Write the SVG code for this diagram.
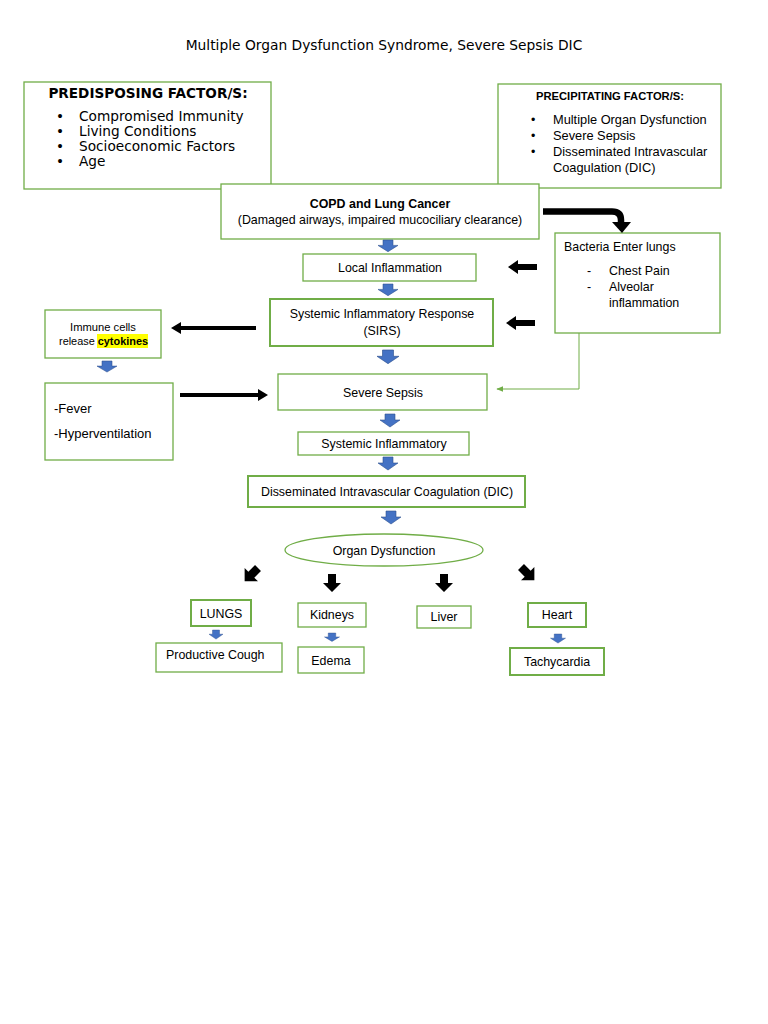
<svg xmlns="http://www.w3.org/2000/svg" width="768" height="1024" viewBox="0 0 768 1024">
<style>
.bg{fill:#ffffff}
.box{fill:#ffffff;stroke:#70ad47;stroke-width:1.3}
.boxt{fill:#ffffff;stroke:#70ad47;stroke-width:2}
.t{font-family:"Liberation Sans",Arial,sans-serif;font-size:12.4px;fill:#000}
.c{text-anchor:middle}
.b{font-weight:bold}
.v{font-family:"DejaVu Sans",Verdana,sans-serif;fill:#000}
.blue{fill:#4472c4;stroke:#2f528f;stroke-width:0.6}
.blk{fill:#000}
.gl{fill:none;stroke:#70ad47;stroke-width:1}
</style>
<defs>
<path id="ba" d="M-5,0 H5 V6 H10 L0,13 L-10,6 H-5 Z"/>
<path id="kd" d="M-4,0 H4 V9 H9 L0,18 L-9,9 H-4 Z"/>
<marker id="gm" viewBox="0 0 10 10" refX="9" refY="5" markerWidth="7" markerHeight="7" orient="auto"><path d="M0,1 L10,5 L0,9 Z" fill="#70ad47"/></marker>
</defs>
<rect class="bg" x="0" y="0" width="768" height="1024"/>
<text class="v" x="384" y="50" font-size="13.8" text-anchor="middle">Multiple Organ Dysfunction Syndrome, Severe Sepsis DIC</text>

<g id="predisposing">
<rect class="box" x="24" y="82" width="247" height="107"/>
<text class="v b" x="148" y="98" font-size="13.6" text-anchor="middle">PREDISPOSING FACTOR/S:</text>
<g class="v" font-size="13.7">
<text x="56" y="121">•</text><text x="79" y="121">Compromised Immunity</text>
<text x="56" y="136">•</text><text x="79" y="136">Living Conditions</text>
<text x="56" y="151">•</text><text x="79" y="151">Socioeconomic Factors</text>
<text x="56" y="166">•</text><text x="79" y="166">Age</text>
</g>
</g>

<g id="precipitating">
<rect class="box" x="498" y="84" width="223" height="104"/>
<text class="t b c" x="610" y="100" style="font-size:11.2px">PRECIPITATING FACTOR/S:</text>
<text class="t" x="531" y="124">•</text><text class="t" x="553" y="124" style="font-size:12.8px">Multiple Organ Dysfunction</text>
<text class="t" x="531" y="140">•</text><text class="t" x="553" y="140" style="font-size:12.8px">Severe Sepsis</text>
<text class="t" x="531" y="156">•</text><text class="t" x="553" y="156" style="font-size:12.8px">Disseminated Intravascular</text>
<text class="t" x="553" y="172" style="font-size:12.8px">Coagulation (DIC)</text>
</g>

<g id="copd">
<rect class="box" x="221" y="184" width="318" height="55"/>
<text class="t b c" x="380" y="208">COPD and Lung Cancer</text>
<text class="t c" x="380" y="224">(Damaged airways, impaired mucociliary clearance)</text>
</g>

<g id="bacteria">
<rect class="box" x="555" y="233" width="165" height="100"/>
<text class="t" x="564" y="251">Bacteria Enter lungs</text>
<text class="t" x="587" y="275">-</text><text class="t" x="609" y="275">Chest Pain</text>
<text class="t" x="587" y="291">-</text><text class="t" x="609" y="291">Alveolar</text>
<text class="t" x="609" y="307">inflammation</text>
</g>

<g id="local">
<rect class="box" x="303" y="254" width="173" height="27"/>
<text class="t c" x="390" y="272">Local Inflammation</text>
</g>

<g id="sirs">
<rect class="boxt" x="270" y="299" width="223" height="47"/>
<text class="t c" x="382" y="318">Systemic Inflammatory Response</text>
<text class="t c" x="382" y="335">(SIRS)</text>
</g>

<g id="immune">
<rect class="box" x="45" y="310" width="116" height="48"/>
<rect x="97" y="334" width="51" height="14" fill="#ffff00"/>
<text class="t c" x="103" y="331" style="font-size:11.2px">Immune cells</text>
<text class="t" x="59" y="345" style="font-size:10.9px">release <tspan font-weight="bold">cytokines</tspan></text>
</g>

<g id="fever">
<rect class="box" x="45" y="383" width="128" height="77"/>
<text class="t" x="54" y="413" style="font-size:13px">-Fever</text>
<text class="t" x="54" y="438" style="font-size:13px">-Hyperventilation</text>
</g>

<g id="sepsis">
<rect class="box" x="278" y="374" width="209" height="36"/>
<text class="t c" x="383" y="397">Severe Sepsis</text>
</g>

<g id="systemic">
<rect class="box" x="298" y="432" width="171" height="23"/>
<text class="t c" x="384" y="448">Systemic Inflammatory</text>
</g>

<g id="dic">
<rect class="boxt" x="248" y="476" width="277" height="31"/>
<text class="t c" x="387" y="496">Disseminated Intravascular Coagulation (DIC)</text>
</g>

<g id="organ">
<ellipse cx="384" cy="550" rx="99" ry="16" fill="#fff" stroke="#70ad47" stroke-width="1.3"/>
<text class="t c" x="384" y="555">Organ Dysfunction</text>
</g>

<g id="lungs">
<rect class="boxt" x="191" y="600" width="60" height="26"/>
<text class="t c" x="221" y="618">LUNGS</text>
</g>
<g id="cough">
<rect class="box" x="156" y="643" width="126" height="29"/>
<text class="t" x="166" y="659">Productive Cough</text>
</g>
<g id="kidneys">
<rect class="box" x="298" y="603" width="68" height="24"/>
<text class="t c" x="332" y="619">Kidneys</text>
</g>
<g id="edema">
<rect class="box" x="298" y="647" width="66" height="26"/>
<text class="t c" x="331" y="665">Edema</text>
</g>
<g id="liver">
<rect class="box" x="417" y="606" width="54" height="22"/>
<text class="t c" x="444" y="621">Liver</text>
</g>
<g id="heart">
<rect class="boxt" x="528" y="603" width="58" height="24"/>
<text class="t c" x="557" y="619">Heart</text>
</g>
<g id="tachy">
<rect class="boxt" x="510" y="648" width="94" height="27"/>
<text class="t c" x="557" y="666">Tachycardia</text>
</g>

<g id="connectors">
<use href="#ba" class="blue" transform="translate(388,240) scale(1,0.9)"/>
<use href="#ba" class="blue" transform="translate(388,284) scale(1,0.9)"/>
<use href="#ba" class="blue" transform="translate(107,361) scale(1,0.85)"/>
<use href="#ba" class="blue" transform="translate(388,350) scale(1.1,1.05)"/>
<use href="#ba" class="blue" transform="translate(390,414)"/>
<use href="#ba" class="blue" transform="translate(388,457)"/>
<use href="#ba" class="blue" transform="translate(391,511)"/>
<use href="#ba" class="blue" transform="translate(216,630) scale(0.7,0.7)"/>
<use href="#ba" class="blue" transform="translate(332,633) scale(0.75,0.65)"/>
<use href="#ba" class="blue" transform="translate(558,634) scale(0.75,0.7)"/>

<path d="M543,211.5 H612 Q621,211.5 621,220 V223" fill="none" stroke="#000" stroke-width="6.5"/>
<polygon class="blk" points="612,222 631,222 622,233"/>

<polygon class="blk" points="537,264 518,264 518,260 508,267 518,274 518,270 537,270"/>
<polygon class="blk" points="535,320 516,320 516,316 506,323 516,330 516,326 535,326"/>

<polygon class="blk" points="256,326 181,326 181,322 171,328 181,334 181,330 256,330"/>
<polygon class="blk" points="180,393 258,393 258,389 268,395 258,401 258,397 180,397"/>

<path class="gl" d="M579,333 V389 H497" marker-end="url(#gm)"/>

<use href="#kd" class="blk" transform="translate(332,574)"/>
<use href="#kd" class="blk" transform="translate(444,574)"/>
<use href="#kd" class="blk" transform="translate(258,568) rotate(45) scale(1.05)"/>
<use href="#kd" class="blk" transform="translate(521,567) rotate(-45) scale(1.05)"/>
</g>
</svg>
